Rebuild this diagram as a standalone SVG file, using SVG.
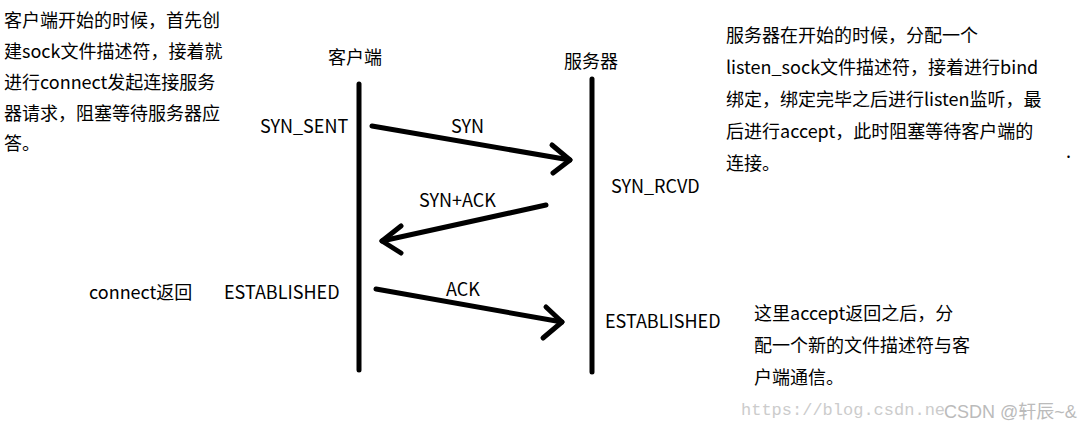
<svg xmlns="http://www.w3.org/2000/svg" width="1082" height="430" viewBox="0 0 1082 430">
<style>
text{font-family:"Microsoft YaHei","Noto Sans CJK SC",sans-serif;font-size:18px;fill:#000}
.ln{stroke:#000;stroke-width:5;fill:none;stroke-linecap:round;stroke-linejoin:round}
.wm{font-family:"Liberation Mono",monospace;font-size:17px;fill:#ccc}
</style>
<rect width="1082" height="430" fill="#fff"/>
<g id="client-note">
<text x="4" y="27">客户端开始的时候，首先创</text>
<text x="4" y="58">建sock文件描述符，接着就</text>
<text x="4" y="89">进行connect发起连接服务</text>
<text x="4" y="120">器请求，阻塞等待服务器应</text>
<text x="4" y="150">答。</text>
</g>
<g id="client">
<text x="328" y="64">客户端</text>
<line class="ln" x1="359" y1="84" x2="359" y2="370"/>
<text x="260" y="133">SYN_SENT</text>
<text x="224" y="299">ESTABLISHED</text>
<text x="89" y="299">connect返回</text>
</g>
<g id="server">
<text x="564" y="68">服务器</text>
<line class="ln" x1="592" y1="79" x2="592" y2="372"/>
<text x="611" y="193">SYN_RCVD</text>
<text x="605" y="328">ESTABLISHED</text>
</g>
<g id="server-note">
<text x="726" y="42">服务器在开始的时候，分配一个</text>
<text x="726" y="74">listen_sock文件描述符，接着进行bind</text>
<text x="726" y="106">绑定，绑定完毕之后进行listen监听，最</text>
<text x="726" y="138">后进行accept，此时阻塞等待客户端的</text>
<text x="726" y="170">连接。</text>
<text x="1066" y="158">.</text>
</g>
<g id="accept-note">
<text x="754" y="320">这里accept返回之后，分</text>
<text x="754" y="352">配一个新的文件描述符与客</text>
<text x="754" y="384">户端通信。</text>
</g>
<g id="connectors">
<line class="ln" x1="372" y1="126" x2="570" y2="160"/>
<polyline class="ln" points="552,145 570,160 553,173"/>
<text x="451" y="133">SYN</text>
<line class="ln" x1="546" y1="205" x2="382" y2="241"/>
<polyline class="ln" points="401,226 382,241 401,253"/>
<text x="419" y="207">SYN+ACK</text>
<line class="ln" x1="376" y1="289" x2="562" y2="322"/>
<polyline class="ln" points="546,307 562,322 543,338"/>
<text x="446" y="296">ACK</text>
</g>
<text class="wm" x="741" y="415">https://blog.csdn.ne</text>
<text x="944" y="418" style="font-size:18px;fill:#bbb;font-family:'Liberation Sans','Noto Sans CJK SC',sans-serif">CSDN @轩辰~&amp;</text>
</svg>
